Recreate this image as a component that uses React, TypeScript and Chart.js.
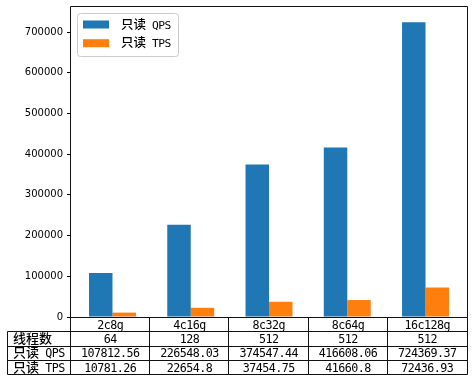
import React, { useEffect, useRef } from "react";
import { Chart, registerables } from "chart.js";

Chart.register(...registerables);

const CATEGORIES = ["2c8g", "4c16g", "8c32g", "8c64g", "16c128g"];
const THREADS = ["64", "128", "512", "512", "512"];
const QPS = [107812.56, 226548.03, 374547.44, 416608.06, 724369.37];
const TPS = [10781.26, 22654.8, 37454.75, 41660.8, 72436.93];
const SERIES_LABELS = ["只读 QPS", "只读 TPS"];
const ROW_LABELS = ["线程数", "只读 QPS", "只读 TPS"];
const Y_TICKS = [0, 100000, 200000, 300000, 400000, 500000, 600000, 700000];
const COLORS = ["#1f77b4", "#ff7f0e"];
const Y_MAX = 764000;
const X_MIN = -0.53;
const X_MAX = CATEGORIES.length - 1 + 0.53;

const W = 474;
const H = 380;
const PAD = { left: 0, top: 6, right: 7, bottom: 63 };
const ROW_H = 14.25;
const LABEL_LEFT = 7;

const isCJK = (c: string) => c.charCodeAt(0) > 0x2e80;

function drawMixed(
  ctx: CanvasRenderingContext2D,
  text: string,
  x: number,
  cy: number,
  align: "left" | "center",
  cjkW: number
) {
  const asciiW = cjkW / 2;
  const chars = Array.from(text);
  const total = chars.reduce((s, c) => s + (isCJK(c) ? cjkW : asciiW), 0);
  let cx = align === "center" ? x - total / 2 : x;
  const base = cy + cjkW * 0.33;
  ctx.textAlign = "center";
  ctx.textBaseline = "alphabetic";
  ctx.fillStyle = "#000";
  for (const c of chars) {
    const w = isCJK(c) ? cjkW : asciiW;
    ctx.font = isCJK(c)
      ? `500 ${cjkW}px "Noto Sans CJK SC"`
      : `${(cjkW * 0.9).toFixed(2)}px "DejaVu Sans Mono"`;
    if (c !== " ") ctx.fillText(c, cx + w / 2, base);
    cx += w;
  }
}

const tablePlugin = {
  id: "tableAndFrame",
  afterDraw(chart: any) {
    const ctx: CanvasRenderingContext2D = chart.ctx;
    const { left, right, top, bottom } = chart.chartArea;
    ctx.save();

    // spines
    ctx.strokeStyle = "#111";
    ctx.lineWidth = 1;
    ctx.beginPath();
    const L = Math.round(left) - 0.5;
    const R = Math.round(right) + 0.5;
    const T = Math.round(top) + 0.5;
    const B = Math.round(bottom) + 0.5;
    ctx.rect(L, T, R - L, B - T);
    ctx.stroke();

    // table grid
    const n = CATEGORIES.length;
    const colW = (right - left) / n;
    const rows = ROW_LABELS.length + 1;
    const yAt = (k: number) => Math.round(bottom + k * ROW_H) + 0.5;
    const xAt = (j: number) =>
      j === 0 ? L : j === n ? R : Math.round(left + j * colW) - 0.5;
    ctx.beginPath();
    for (let k = 0; k <= rows; k++) {
      const x0 = k === 0 ? xAt(0) : LABEL_LEFT + 0.5;
      ctx.moveTo(x0, yAt(k));
      ctx.lineTo(xAt(n), yAt(k));
    }
    for (let j = 0; j <= n; j++) {
      ctx.moveTo(xAt(j), yAt(0));
      ctx.lineTo(xAt(j), yAt(rows));
    }
    ctx.moveTo(LABEL_LEFT + 0.5, yAt(1));
    ctx.lineTo(LABEL_LEFT + 0.5, yAt(rows));
    ctx.stroke();

    // table texts
    const rowsData = [
      CATEGORIES,
      THREADS,
      QPS.map((v) => String(v)),
      TPS.map((v) => String(v)),
    ];
    rowsData.forEach((row, k) => {
      const cy = bottom + (k + 0.5) * ROW_H + 0.5;
      row.forEach((t, j) => {
        drawMixed(ctx, t, left + (j + 0.5) * colW, cy, "center", 13);
      });
      if (k > 0) drawMixed(ctx, ROW_LABELS[k - 1], LABEL_LEFT + 6, cy, "left", 13);
    });

    // legend
    const bx = left + 6;
    const by = top + 7;
    const bw = 101;
    const bh = 43;
    ctx.beginPath();
    ctx.roundRect(bx + 0.5, by + 0.5, bw, bh, 3);
    ctx.fillStyle = "rgba(255,255,255,0.8)";
    ctx.fill();
    ctx.strokeStyle = "#cccccc";
    ctx.stroke();
    SERIES_LABELS.forEach((lab, i) => {
      const cy = top + 18.5 + i * 18.7;
      ctx.fillStyle = COLORS[i];
      ctx.fillRect(left + 12, cy - 4, 26, 8);
      drawMixed(ctx, lab, left + 50, cy, "left", 12.5);
    });

    ctx.restore();
  },
};

export default function App() {
  const ref = useRef<HTMLCanvasElement>(null);
  useEffect(() => {
    const canvas = ref.current;
    if (!canvas) return;
    const chart = new Chart(canvas, {
      type: "bar",
      data: {
        datasets: [
          {
            label: SERIES_LABELS[0],
            data: QPS.map((v, i) => ({ x: i, y: v })),
            backgroundColor: COLORS[0],
            borderWidth: 0,
          },
          {
            label: SERIES_LABELS[1],
            data: TPS.map((v, i) => ({ x: i, y: v })),
            backgroundColor: COLORS[1],
            borderWidth: 0,
          },
        ],
      },
      options: {
        animation: false,
        responsive: false,
        devicePixelRatio: 1,
        layout: { padding: PAD },
        datasets: { bar: { categoryPercentage: 0.6, barPercentage: 1.0 } },
        plugins: { legend: { display: false }, tooltip: { enabled: false } },
        scales: {
          x: {
            type: "linear",
            min: X_MIN,
            max: X_MAX,
            offset: false,
            display: false,
          },
          y: {
            min: 0,
            max: Y_MAX,
            afterFit: (scale: any) => {
              scale.width = 71;
              scale.paddingTop = 0;
              scale.paddingBottom = 0;
            },
            afterBuildTicks: (scale: any) => {
              scale.ticks = Y_TICKS.map((v) => ({ value: v }));
            },
            ticks: {
              autoSkip: false,
              padding: 4,
              color: "#000",
              font: { family: "DejaVu Sans", size: 10 },
              callback: (v: any) => String(v),
            },
            grid: {
              drawOnChartArea: false,
              drawTicks: true,
              tickLength: 4,
              color: "#000",
            },
            border: { display: false },
          },
        },
      },
      plugins: [tablePlugin],
    } as any);
    return () => chart.destroy();
  }, []);
  return (
    <div style={{ position: "absolute", left: 0, top: 0, width: W, height: H, background: "#fff" }}>
      <canvas ref={ref} width={W} height={H} style={{ width: W, height: H }} />
    </div>
  );
}
